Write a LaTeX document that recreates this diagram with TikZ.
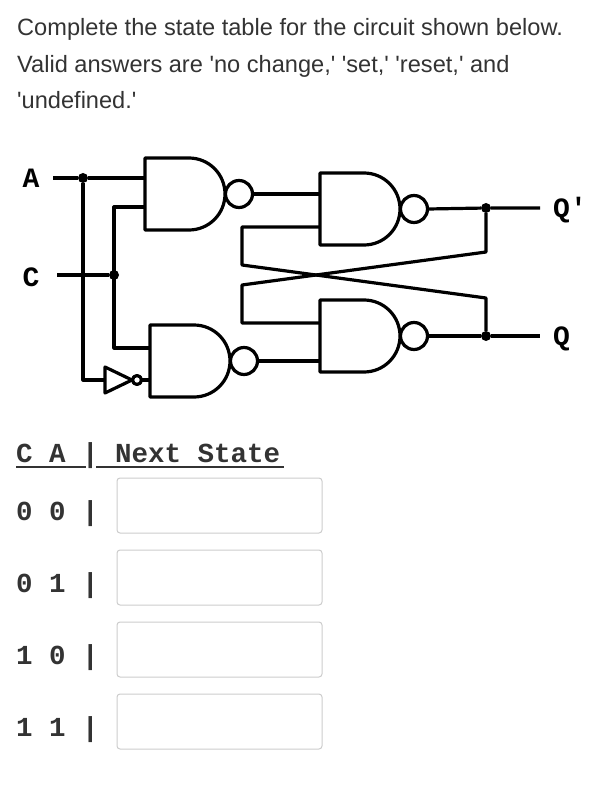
\documentclass[tikz,border=0pt]{standalone}
\usepackage{fontspec}
\setmainfont{Liberation Sans}
\newfontfamily\mono{Liberation Mono}
\definecolor{txt}{HTML}{333333}
\newcommand\sq{\textquotesingle}
\begin{document}
\begin{tikzpicture}[x=1pt,y=-1pt,
  wire/.style={line width=3.2pt,line join=round},
  dot/.style={circle,fill=black,inner sep=0pt,minimum size=10pt},
  q/.style={font=\fontsize{23.6}{23.6}\selectfont,text=txt,anchor=base west,inner sep=0pt},
  lab/.style={font=\mono\bfseries\fontsize{28}{28}\selectfont,inner sep=0pt},
  tab/.style={font=\mono\bfseries\fontsize{27.5}{27.5}\selectfont,text=txt,anchor=base west,inner sep=0pt},
  box/.style={draw=black!20,line width=1pt,rounded corners=3pt}]
\useasboundingbox (0,0) rectangle (613,794);
% question text
\node[q] (t1) at (17,36) {Complete the state table for the circuit shown below.};
\node[q] (t2) at (17,73) {Valid answers are \sq no change,\sq{} \sq set,\sq{} \sq reset,\sq{} and};
\node[q] (t3) at (17,109) {\sq undefined.\sq};
% gates: left x, top y, height 72
\foreach \n/\x/\y in {g1/145/158, g2/150/325, g3/320/173, g4/320/300}{
  \draw[wire] (\x,\y) -- (\x+44,\y) arc[start angle=-90,end angle=90,radius=36] -- (\x,\y+72) -- cycle;
  \draw[wire] (\x+94,\y+36) circle[radius=13.5];
  \coordinate (\n o) at (\x+108,\y+36);
}
% inverter
\draw[wire] (105,367) -- (132,380) -- (105,393) -- cycle;
\draw[wire] (137,380) circle[radius=4.5];
\coordinate (invo) at (141.5,380);
\coordinate (invi) at (105,380);
% labels
\node[lab] (A) at (31,178) {A};
\node[lab] (C) at (31,277) {C};
\node[lab,anchor=west] (Qp) at (553,210) {Q′};
\node[lab,anchor=west] (Q) at (553,339) {Q};
% dots
\node[dot] (dA) at (83,178) {};
\node[dot] (dC) at (114,275) {};
\node[dot] (dQp) at (486,208) {};
\node[dot] (dQ) at (486,336) {};
% wires
\draw[wire] (53,178) -- (dA) -- (145,178);
\draw[wire] (dA) -- (83,380) -- (invi);
\draw[wire] (invo) -- (150,380);
\draw[wire] (57,275) -- (dC);
\draw[wire] (145,207) -- (114,207) -- (114,348) -- (150,348);
\draw[wire] (g1o) -- (320,194);
\draw[wire] (g2o) -- (320,361);
\draw[wire] (g3o) -- (dQp) -- (540,208);
\draw[wire] (g4o) -- (dQ) -- (540,336);
\draw[wire] (dQp) -- (486,252) -- (242,285) -- (242,323) -- (320,323);
\draw[wire] (dQ) -- (486,298) -- (242,265) -- (242,227) -- (320,227);
% table
\node[tab] (h) at (16,462) {C A |\ Next State};
\draw[txt,line width=1.6pt] (16,467) -- (86,467) (96,467) -- (284,467);
\foreach \s/\yy in {{0 0 |}/0,{0 1 |}/1,{1 0 |}/2,{1 1 |}/3}{
  \node[tab] (r\yy) at (16,520+72*\yy) {\s};
  \draw[box] (117,478+72*\yy) rectangle (322,533+72*\yy);
}
\end{tikzpicture}
\end{document}
